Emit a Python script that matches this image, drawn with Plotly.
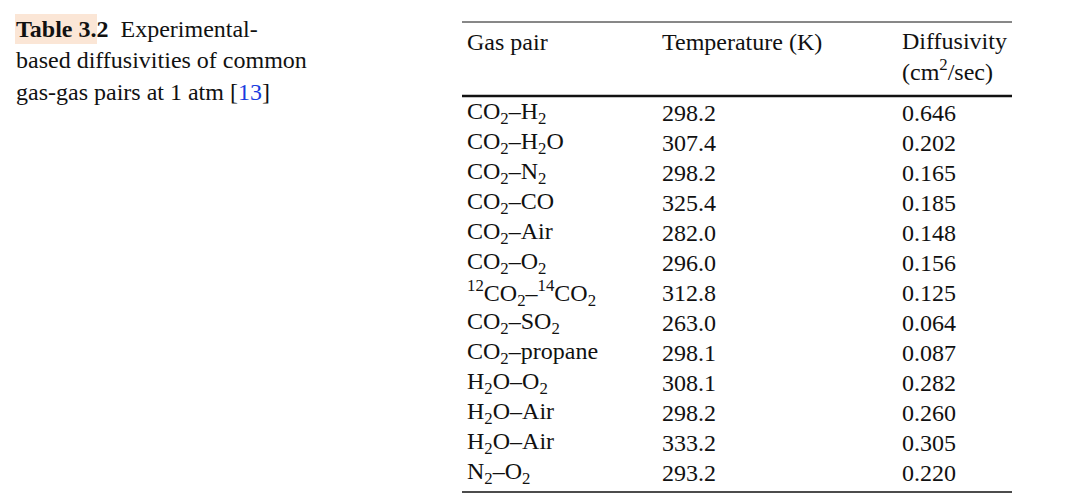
import plotly.graph_objects as go

# table data
gas_pairs = ["CO<sub>2</sub>–H<sub>2</sub>", "CO<sub>2</sub>–H<sub>2</sub>O", "CO<sub>2</sub>–N<sub>2</sub>",
             "CO<sub>2</sub>–CO", "CO<sub>2</sub>–Air", "CO<sub>2</sub>–O<sub>2</sub>",
             "<sup>12</sup>CO<sub>2</sub>–<sup>14</sup>CO<sub>2</sub>", "CO<sub>2</sub>–SO<sub>2</sub>",
             "CO<sub>2</sub>–propane", "H<sub>2</sub>O–O<sub>2</sub>", "H<sub>2</sub>O–Air",
             "H<sub>2</sub>O–Air", "N<sub>2</sub>–O<sub>2</sub>"]
temperatures = ["298.2", "307.4", "298.2", "325.4", "282.0", "296.0", "312.8",
                "263.0", "298.1", "308.1", "298.2", "333.2", "293.2"]
diffusivities = ["0.646", "0.202", "0.165", "0.185", "0.148", "0.156", "0.125",
                 "0.064", "0.087", "0.282", "0.260", "0.305", "0.220"]
headers = ["Gas pair", "Temperature (K)", "Diffusivity<br>(cm<sup>2</sup>/sec)"]
caption = ["<b>Table 3.2</b>  Experimental-", "based diffusivities of common",
           "gas-gas pairs at 1 atm [<span style='color:#1a3de0'>13</span>]"]

W, H = 1074, 500
OFF = 8  # page offset
FONT = dict(family="Liberation Serif", size=24, color="#111")


def px(x):
    return (x - OFF) / W


def py(y):
    return 1 - (y - OFF) / H


fig = go.Figure()
ann = []
shapes = []

# caption
shapes.append(dict(type="rect", xref="paper", yref="paper", x0=px(15), x1=px(97),
                   y0=py(44), y1=py(14), fillcolor="#fbe6d6", line_width=0, layer="below"))
for i, line in enumerate(caption):
    ann.append(dict(x=px(15), y=py(29 + i * 31.5), text=line, xanchor="left", yanchor="middle"))

# header
cols = [466, 661, 901]
for c, h in zip(cols, headers):
    ann.append(dict(x=px(c), y=py(42), text=h, xanchor="left", yanchor="middle", align="left"))
ann[-1].update(y=py(27), yanchor="top")

# rows
for i in range(len(gas_pairs)):
    y = py(113 + i * 30)
    for c, t in zip(cols, [gas_pairs[i], temperatures[i], diffusivities[i]]):
        ann.append(dict(x=px(c), y=y, text=t, xanchor="left", yanchor="middle"))

for a in ann:
    a.update(xref="paper", yref="paper", showarrow=False, font=FONT, borderpad=0)

# rules
for y, w in [(22, 1), (96, 2.5), (492, 1.5)]:
    shapes.append(dict(type="line", xref="paper", yref="paper", x0=px(462), x1=px(1012),
                       y0=py(y), y1=py(y), line=dict(color="#111", width=w)))

fig.update_layout(width=W, height=H, margin=dict(l=0, r=0, t=0, b=0),
                  plot_bgcolor="white", paper_bgcolor="white",
                  xaxis=dict(visible=False), yaxis=dict(visible=False),
                  annotations=ann, shapes=shapes)
fig.write_html("out.html")
